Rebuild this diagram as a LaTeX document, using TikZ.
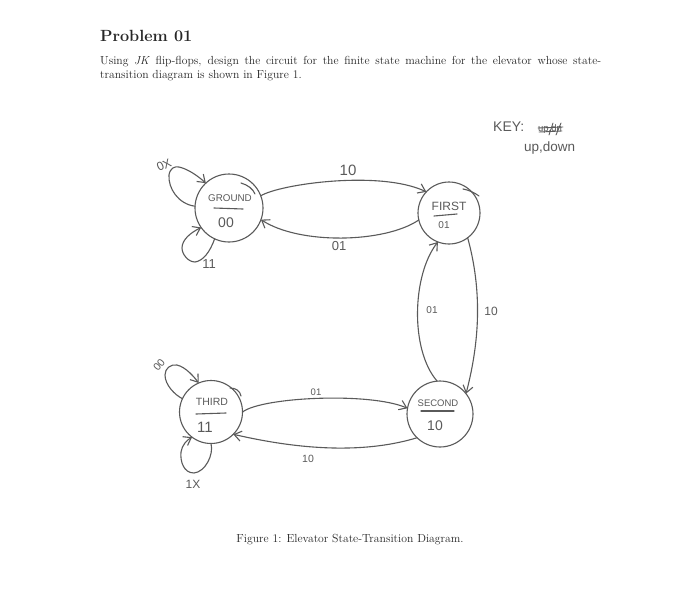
\documentclass[tikz,border=0pt]{standalone}
\usepackage{fontspec}
\newfontfamily\hand{Liberation Sans}
\usetikzlibrary{arrows.meta}
\definecolor{ink}{HTML}{5A5A5A}
\tikzset{
  statenode/.style={circle,draw=ink,line width=1.1pt,minimum size=#1,inner sep=0pt,outer sep=0pt},
  conn/.style={draw=ink,line width=1.1pt,line cap=round,-{Straight Barb[length=7pt,width=10pt,line width=1.1pt]}},
  hw/.style={text=ink,font=\hand\fontsize{#1}{#1}\selectfont,inner sep=0pt},
  hw/.default=9,
  rulep/.style={draw=ink,line width=1.1pt,line cap=round},
  doc/.style={anchor=west,inner sep=0pt,text=black!85}
}
\begin{document}
\begin{tikzpicture}[x=1pt,y=-1pt]
\useasboundingbox (0,0) rectangle (700,594);
\fill[white] (0,0) rectangle (700,594);
\node[doc,font=\bfseries\fontsize{16.2}{16.2}\selectfont] (title) at (100,36) {Problem 01};
\node[doc,font=\fontsize{11.7}{11.7}\selectfont] (l1) at (100,62) {\makebox[501pt][s]{Using \textit{JK} flip-flops, design the circuit for the finite state machine for the elevator whose state-}};
\node[doc,font=\fontsize{11.7}{11.7}\selectfont] (l2) at (100,76) {transition diagram is shown in Figure 1.};
\node[inner sep=0pt,text=black!85,font=\fontsize{11.7}{11.7}\selectfont] (cap) at (350,540) {Figure 1: Elevator State-Transition Diagram.};

\node[statenode=68pt] (g) at (229,208) {};
\node[statenode=62pt] (f) at (449,213) {};
\node[statenode=66pt] (s) at (440,414) {};
\node[statenode=63pt] (t) at (211,412) {};

\node[hw=9.8] (gn) at (230,198) {GROUND};
\node[hw=14] (gv) at (226,223) {00};
\node[hw=12] (fn) at (449,206) {FIRST};
\node[hw=10] (fv) at (444,225) {01};
\node[hw=9.5] (sn) at (438,403) {SECOND};
\node[hw=14] (sv) at (435,426) {10};
\node[hw=10.5] (tn) at (212,402) {THIRD};
\node[hw=15] (tv) at (205,427) {11};
\draw[rulep] (214,208) -- (243,209);
\draw[rulep] (434,216) -- (457,214);
\draw[rulep] (421,411) -- (454,411);
\draw[rulep] (196,414) -- (226,413);

\draw[rulep] (241,183) .. controls (248,185) and (253,189) .. (255,194);
\draw[rulep] (463,189) .. controls (469,190) and (475,193) .. (479,196);
\draw[rulep] (230,388) .. controls (236,388) and (240,391) .. (241,396);

\draw[conn] (g.21) .. controls (280,184) and (380,170) .. (f.137);
\draw[conn] (f.193) .. controls (385,243) and (300,245) .. (g.-20);
\draw[conn] (s.95) .. controls (410,350) and (412,275) .. (f.249);
\draw[conn] (f.-53) .. controls (482,290) and (480,340) .. (s.38);
\draw[conn] (t.0) .. controls (262,397) and (370,392) .. (s.170);
\draw[conn] (s.226) .. controls (370,452) and (310,452) .. (t.-45);
\draw[conn] (g.177) .. controls (178,204) and (168,188) .. (169,175) .. controls (170,168) and (175,166) .. (179,167) .. controls (188,169) and (198,176) .. (g.133);
\draw[conn] (g.245) .. controls (210,252) and (203,261) .. (195,262) .. controls (188,262) and (182,254) .. (182,248) .. controls (182,240) and (190,233) .. (g.215);
\draw[conn] (t.155) .. controls (175,395) and (165,385) .. (165,375) .. controls (165,368) and (171,364) .. (177,365) .. controls (186,367) and (195,378) .. (t.113);
\draw[conn] (t.270) .. controls (214,455) and (205,472) .. (194,473) .. controls (184,473) and (180,462) .. (181,452) .. controls (182,445) and (187,440) .. (t.233);

\node[hw=12,rotate=25] (lg1) at (164,165) {0X};
\node[hw=13] (lg2) at (209,264) {11};
\node[hw=15] (e1) at (348,170) {10};
\node[hw=13] (e2) at (339,246) {01};
\node[hw=10] (e3) at (432,310) {01};
\node[hw=12] (e4) at (491,311) {10};
\node[hw=9.5] (e5) at (316,392) {01};
\node[hw=10.5] (e6) at (308,459) {10};
\node[hw=10.5,rotate=50] (lt1) at (159,365) {00};
\node[hw=12] (lt2) at (193,484) {1X};

\node[hw=14,anchor=west] (key) at (493,127) {KEY:};
\node[hw=13.5,anchor=west] (kd) at (524,148) {up,down};
\node[hw=9.5] (ks) at (550,129) {up,dn};
\draw[rulep,line width=0.9pt] (538,128) -- (563,127);
\draw[rulep,line width=0.9pt] (539,132) -- (562,131);
\draw[rulep,line width=0.9pt] (549,135) -- (553,123);
\draw[rulep,line width=0.9pt] (556,135) -- (561,123);
\end{tikzpicture}
\end{document}
